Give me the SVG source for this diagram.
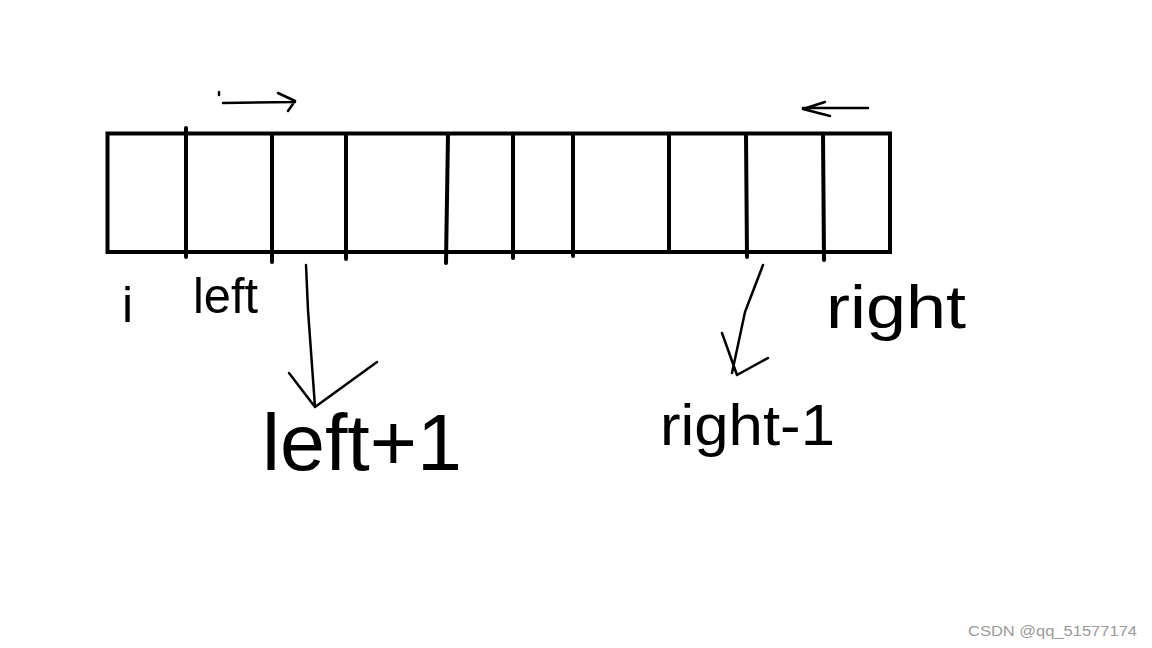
<svg xmlns="http://www.w3.org/2000/svg" width="1152" height="648" viewBox="0 0 1152 648">
<style>
.box{fill:none;stroke:#000;stroke-width:4}
.div{stroke:#000;stroke-width:4;stroke-linecap:round}
.arr{fill:none;stroke:#000;stroke-width:2.5;stroke-linecap:round;stroke-linejoin:round}
.hand{font-family:"Liberation Sans",Arial,sans-serif;fill:#000}
.wm{font-family:"Liberation Sans",Arial,sans-serif;font-size:14px;fill:#9a9a9a}
</style>
<rect width="1152" height="648" fill="#fff"/>
<g id="array">
<rect class="box" x="107.5" y="133.5" width="782.5" height="118.5"/>
<line class="div" x1="186" y1="128" x2="186" y2="257"/>
<line class="div" x1="272" y1="134" x2="272" y2="262"/>
<line class="div" x1="346" y1="134" x2="346" y2="259"/>
<line class="div" x1="448" y1="134" x2="446" y2="263"/>
<line class="div" x1="513" y1="134" x2="513" y2="258"/>
<line class="div" x1="573" y1="134" x2="573" y2="256"/>
<line class="div" x1="669" y1="134" x2="669" y2="252"/>
<line class="div" x1="746" y1="134" x2="747" y2="257"/>
<line class="div" x1="823" y1="134" x2="824" y2="260"/>
</g>
<g id="labels">
<text class="hand" x="122" y="322" font-size="50">i</text>
<text class="hand" x="193" y="313" font-size="50" textLength="65" lengthAdjust="spacingAndGlyphs">left</text>
<text class="hand" x="262" y="470" font-size="80" textLength="200" lengthAdjust="spacingAndGlyphs">left+1</text>
<text class="hand" x="826" y="328" font-size="62" textLength="140" lengthAdjust="spacingAndGlyphs">right</text>
<text class="hand" x="660" y="445" font-size="58" textLength="175" lengthAdjust="spacingAndGlyphs">right-1</text>
</g>
<g id="connectors">
<path class="arr" d="M223 103 L295 102 M278 93 L295 101 L288 111"/>
<path class="arr" d="M219 92 L219 95"/>
<path class="arr" d="M868 108 L803 108 M825 102 L803 109 L830 116"/>
<path class="arr" d="M306 265 L308 310 L315 407 M289 373 L315 407 L377 362"/>
<path class="arr" d="M763 265 L745 312 L732 373 M722 333 L737 375 L768 358"/>
</g>
<text class="wm" x="968" y="636" textLength="169" lengthAdjust="spacingAndGlyphs">CSDN @qq_51577174</text>
</svg>
